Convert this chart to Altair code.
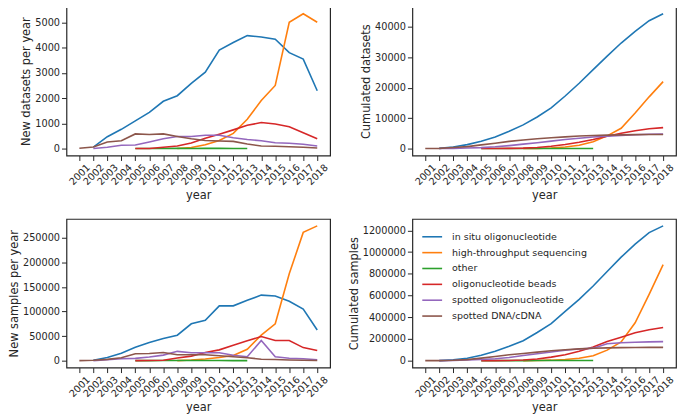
import altair as alt
import pandas as pd

years = list(range(2001, 2019))
series = ["in situ oligonucleotide", "high-throughput sequencing", "other",
          "oligonucleotide beads", "spotted oligonucleotide", "spotted DNA/cDNA"]
colors = ["#1f77b4", "#ff7f0e", "#2ca02c", "#d62728", "#9467bd", "#8c564b"]

# first year of each series
start_year = {
    "in situ oligonucleotide": 2002,
    "high-throughput sequencing": 2008,
    "other": 2005,
    "oligonucleotide beads": 2005,
    "spotted oligonucleotide": 2002,
    "spotted DNA/cDNA": 2001,
}

# new datasets per year
ds_insitu = [60, 470, 762, 1098, 1434, 1873, 2093, 2584, 3023, 3902, 4199, 4470, 4419, 4328, 3798, 3540, 2287]
ds_hts = [0, 40, 155, 323, 600, 1160, 1900, 2500, 5000, 5336, 5000]
ds_other = [1, 3, 4, 6, 5, 8, 6, 4, 2]
ds_beads = [0, 5, 50, 100, 220, 410, 570, 740, 920, 1030, 970, 865, 630, 390]
ds_spotolig = [0, 50, 130, 140, 260, 390, 480, 480, 530, 530, 430, 360, 310, 230, 210, 170, 100]
ds_spotdna = [10, 60, 260, 310, 580, 555, 580, 480, 390, 320, 300, 285, 180, 100, 90, 75, 50, 25]

# new samples per year
sm_insitu = [700, 6600, 15300, 27300, 37200, 45200, 51900, 75100, 82400, 111700, 111700, 123000, 133600, 131600, 121000, 105000, 62500]
sm_hts = [0, 1300, 3300, 6600, 10600, 23300, 51900, 75100, 176900, 261300, 274600]
sm_other = [50, 150, 200, 300, 250, 300, 200, 150, 100]
sm_beads = [0, 500, 800, 5300, 9300, 16600, 22000, 31300, 40600, 49200, 41200, 41200, 26600, 20600]
sm_spotolig = [0, 2000, 4000, 4700, 7300, 11300, 19000, 16000, 16000, 16000, 11000, 8000, 41000, 8000, 5000, 4000, 2000]
sm_spotdna = [0, 700, 2700, 6000, 14000, 14600, 16600, 12000, 12000, 12000, 10000, 8000, 6000, 3000, 2500, 1300, 700, 500]

ds_ticks = [0, 1000, 2000, 3000, 4000, 5000]
dsc_ticks = [0, 10000, 20000, 30000, 40000]
sm_ticks = [0, 50000, 100000, 150000, 200000, 250000]
smc_ticks = [0, 200000, 400000, 600000, 800000, 1000000, 1200000]

ds_vals = [ds_insitu, ds_hts, ds_other, ds_beads, ds_spotolig, ds_spotdna]
sm_vals = [sm_insitu, sm_hts, sm_other, sm_beads, sm_spotolig, sm_spotdna]

rows = []
for metric, vals in (("datasets", ds_vals), ("samples", sm_vals)):
    for name, v in zip(series, vals):
        y0 = start_year[name]
        for i, val in enumerate(v):
            rows.append({"metric": metric, "series": name, "year": y0 + i, "value": val})
df = pd.DataFrame(rows)

FONT = "DejaVu Sans"
TXT = "#262626"
W, H = 266, 150
LBL = 9.8
TTL = 11.5


def panel(metric, ytitle, ticks, cumulative, legend=None):
    base = alt.Chart(df[df.metric == metric])
    field = "value"
    if cumulative:
        base = base.transform_window(
            cum="sum(value)", groupby=["series"], sort=[alt.SortField("year")], frame=[None, 0]
        )
        field = "cum"
    return base.mark_line(strokeWidth=1.6).encode(
        x=alt.X("year:Q",
                scale=alt.Scale(padding=13, nice=False, zero=False),
                axis=alt.Axis(values=years, format="d", title="year", labelAngle=315,
                              labelAlign="center", labelBaseline="middle", labelPadding=14,
                              labelOverlap=False, labelFlush=False, titlePadding=3)),
        y=alt.Y(f"{field}:Q",
                scale=alt.Scale(padding=7, nice=False, zero=False),
                axis=alt.Axis(values=ticks, format="d", title=ytitle, labelPadding=2,
                              titlePadding=3)),
        color=alt.Color("series:N", scale=alt.Scale(domain=series, range=colors),
                        sort=series, legend=legend),
    ).properties(width=W, height=H)


leg = alt.Legend(orient="none", legendX=9, legendY=7, title=None, symbolType="stroke",
                 symbolSize=400, symbolStrokeWidth=1.6, labelFontSize=9.6, labelFont=FONT,
                 labelColor=TXT, labelOffset=9, rowPadding=-3, padding=0)

p1 = panel("datasets", "New datasets per year", ds_ticks, False)
p2 = panel("datasets", "Cumulated datasets", dsc_ticks, True)
p3 = panel("samples", "New samples per year", sm_ticks, False)
p4 = panel("samples", "Cumulated samples", smc_ticks, True, legend=leg)

chart = alt.concat(p1, p2, p3, p4, columns=2, spacing=16).resolve_scale(
    color="independent"
).properties(
    padding={"left": 0, "top": -4, "right": 0, "bottom": 0}
).configure_axis(
    labelFont=FONT, titleFont=FONT, labelFontSize=LBL, titleFontSize=TTL,
    labelColor=TXT, titleColor=TXT, tickColor=TXT, tickSize=5, tickWidth=1,
    domain=False, grid=False, titleFontWeight="normal"
).configure_view(stroke=TXT, strokeWidth=1.2)

chart.save("out.html", embed_options={"renderer": "svg", "actions": False})
